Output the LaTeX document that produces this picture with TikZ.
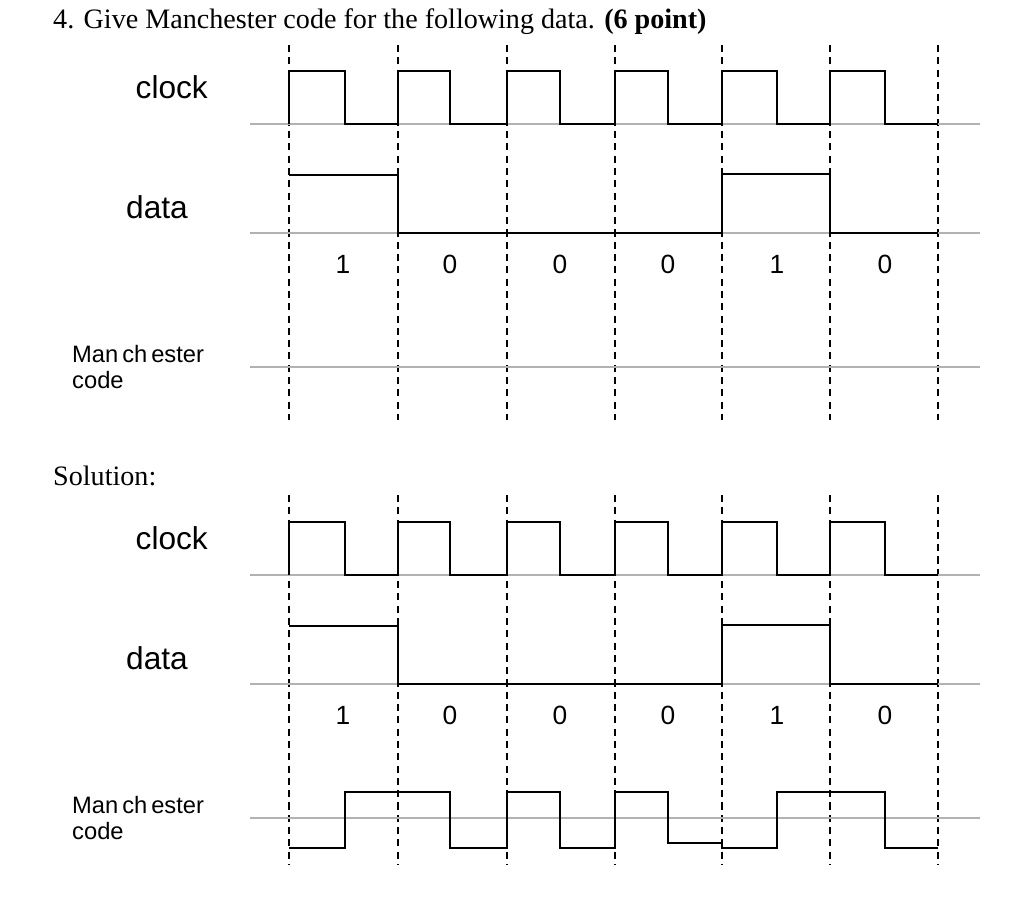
\documentclass[tikz,border=0pt]{standalone}
\usepackage{fontspec}
\setmainfont{Liberation Serif}
\newfontfamily\arial{Liberation Sans}
\begin{document}
\begin{tikzpicture}[x=0.02cm,y=-0.02cm,
  sig/.style={black,line width=0.8pt},
  base/.style={gray!60,line width=0.8pt},
  grid/.style={black,dashed,dash pattern=on 4pt off 3pt,line width=0.6pt},
  big/.style={font=\arial\fontsize{18}{21}\selectfont},
  mid/.style={font=\arial\fontsize{15}{17}\selectfont},
  small/.style={font=\arial\fontsize{13.5}{15}\selectfont,align=left}]
\useasboundingbox (0,0) rectangle (1024,912);
\node[anchor=west,font=\fontsize{16}{18}\selectfont] (title) at (47,22) {4. Give Manchester code for the following data. \textbf{(6 point)}};
\node[anchor=west,font=\fontsize{16}{18}\selectfont] (sol) at (47,476) {Solution:};
\foreach \oy/\top/\bot/\man in {0/45/420/0, 451/495/865/1}{
  \begin{scope}[yshift=-\oy*0.02cm]
  \foreach \x in {289,398,507,615,722,830,938} \draw[grid] (\x,\top-\oy) -- (\x,\bot-\oy);
  \draw[base] (250,124) -- (980,124);
  \draw[base] (250,233) -- (980,233);
  \draw[base] (250,367) -- (980,367);
  \node[big,anchor=east] (clk) at (214,87) {clock};
  \node[big,anchor=east] (dat) at (194,207) {data};
  \node[small,anchor=west] (mc) at (66,367) {Man\,ch\,ester\\code};
  \draw[sig] (289,124) -- (289,71) -- (345,71) -- (345,124) -- (398,124) -- (398,71) -- (450,71) -- (450,124) -- (507,124) -- (507,71) -- (560,71) -- (560,124) -- (615,124) -- (615,71) -- (668,71) -- (668,124) -- (722,124) -- (722,71) -- (777,71) -- (777,124) -- (830,124) -- (830,71) -- (885,71) -- (885,124) -- (938,124);
  \draw[sig] (289,175) -- (398,175) -- (398,233) -- (722,233) -- (722,174) -- (830,174) -- (830,233) -- (938,233);
  \foreach \x/\b in {343/1,450/0,560/0,668/0,777/1,885/0} \node[mid] at (\x,264) {\b};
  \ifnum\man=1
  \draw[sig] (289,397) -- (345,397) -- (345,341) -- (450,341) -- (450,397) -- (507,397) -- (507,341) -- (560,341) -- (560,397) -- (615,397) -- (615,341) -- (668,341) -- (668,392) -- (722,392) -- (722,397) -- (777,397) -- (777,341) -- (885,341) -- (885,397) -- (938,397);
  \fi
  \end{scope}}
\end{tikzpicture}
\end{document}
